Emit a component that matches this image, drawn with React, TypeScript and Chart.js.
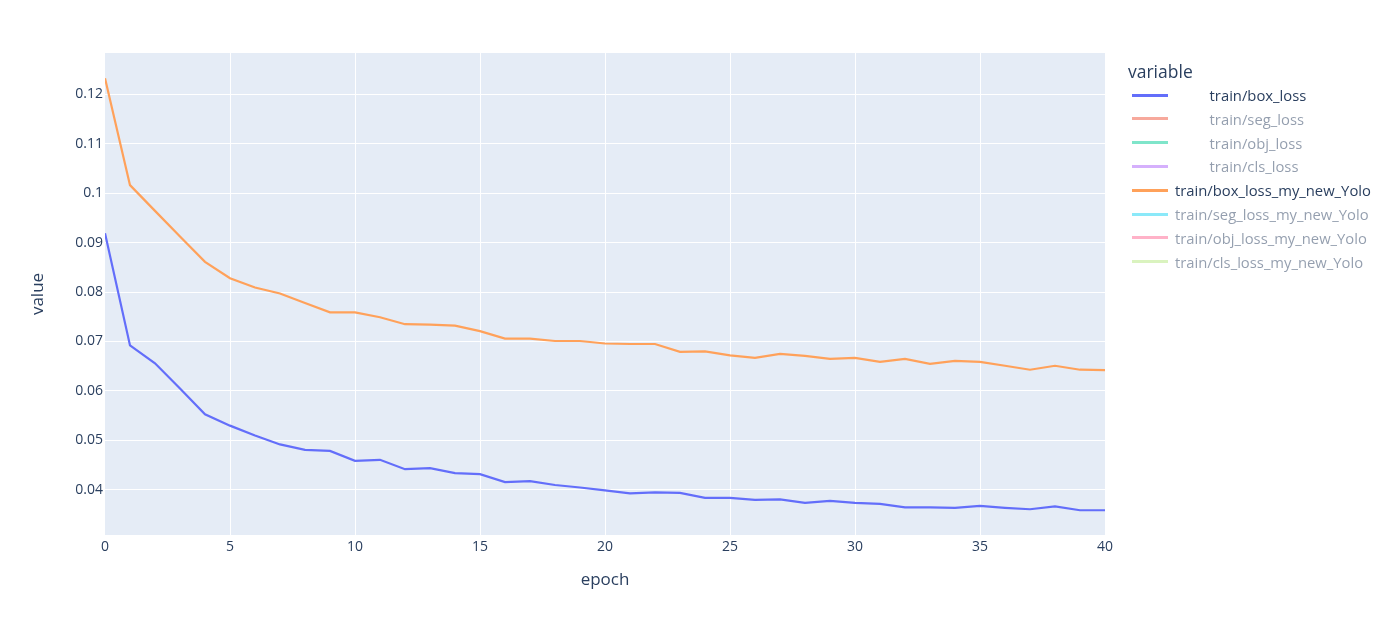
import React, { useEffect, useRef } from "react";
import { Chart, registerables } from "chart.js";

Chart.register(...registerables);

const epochs = [0, 1, 2, 3, 4, 5, 6, 7, 8, 9, 10, 11, 12, 13, 14, 15, 16, 17, 18, 19, 20, 21, 22, 23, 24, 25, 26, 27, 28, 29, 30, 31, 32, 33, 34, 35, 36, 37, 38, 39, 40];

const boxLoss = [0.0919, 0.0692, 0.0656, 0.0605, 0.0553, 0.0530, 0.0510, 0.0492, 0.0481, 0.0479, 0.0459, 0.0461, 0.0442, 0.0444, 0.0434, 0.0432, 0.0416, 0.0418, 0.0410, 0.0405, 0.0399, 0.0393, 0.0395, 0.0394, 0.0384, 0.0384, 0.0380, 0.0381, 0.0374, 0.0378, 0.0374, 0.0372, 0.0365, 0.0365, 0.0364, 0.0368, 0.0364, 0.0361, 0.0367, 0.0359, 0.0359];

const boxLossMyNewYolo = [0.1232, 0.1016, 0.0964, 0.0912, 0.0861, 0.0828, 0.0809, 0.0797, 0.0778, 0.0759, 0.0759, 0.0749, 0.0735, 0.0734, 0.0732, 0.0721, 0.0706, 0.0706, 0.0701, 0.0701, 0.0696, 0.0695, 0.0695, 0.0679, 0.0680, 0.0672, 0.0667, 0.0675, 0.0671, 0.0665, 0.0667, 0.0659, 0.0665, 0.0655, 0.0661, 0.0659, 0.0651, 0.0643, 0.0651, 0.0643, 0.0642];

const yTicks = [0.04, 0.05, 0.06, 0.07, 0.08, 0.09, 0.1, 0.11, 0.12];
const xTicks = [0, 5, 10, 15, 20, 25, 30, 35, 40];

const legendTitle = "variable";
const seriesNames = [
  "         train/box_loss",
  "         train/seg_loss",
  "         train/obj_loss",
  "         train/cls_loss",
  "train/box_loss_my_new_Yolo",
  "train/seg_loss_my_new_Yolo",
  "train/obj_loss_my_new_Yolo",
  "train/cls_loss_my_new_Yolo",
];
const seriesColors = ["#636efa", "#EF553B", "#00cc96", "#ab63fa", "#FFA15A", "#19d3f3", "#FF6692", "#B6E880"];
const seriesVisible = [true, false, false, false, true, false, false, false];
const seriesData: (number[] | null)[] = [boxLoss, null, null, null, boxLossMyNewYolo, null, null, null];

const FONT = "'Open Sans', 'Noto Sans', sans-serif";
const TEXT = "#2a3f5f";

const bgPlugin = {
  id: "plotBg",
  beforeDraw(chart: any) {
    const { ctx, chartArea } = chart;
    ctx.save();
    ctx.fillStyle = "#E5ECF6";
    ctx.fillRect(chartArea.left, chartArea.top, chartArea.right - chartArea.left, chartArea.bottom - chartArea.top);
    ctx.restore();
  },
};

export default function App() {
  const ref = useRef<HTMLCanvasElement | null>(null);

  useEffect(() => {
    if (!ref.current) return;
    const datasets = seriesNames
      .map((name, i) => ({ name, i }))
      .filter(({ i }) => seriesVisible[i] && seriesData[i])
      .map(({ name, i }) => ({
        label: name.trim(),
        data: (seriesData[i] as number[]).map((v, k) => ({ x: epochs[k], y: v })),
        borderColor: seriesColors[i],
        backgroundColor: seriesColors[i],
        borderWidth: 2.2,
        pointRadius: 0,
        tension: 0,
        fill: false,
      }));

    const chart = new Chart(ref.current, {
      type: "line",
      data: { datasets },
      plugins: [bgPlugin],
      options: {
        animation: false,
        responsive: false,
        layout: { padding: { left: 0, top: 53, right: 275, bottom: 0 } },
        plugins: { legend: { display: false }, tooltip: { enabled: false } },
        scales: {
          x: {
            type: "linear",
            min: 0,
            max: 40,
            afterBuildTicks: (s: any) => {
              s.ticks = xTicks.map((v) => ({ value: v }));
            },
            afterFit: (s: any) => {
              s.height = 100;
            },
            grid: {
              color: (c: any) => (c.tick && (c.tick.value === 0 || c.tick.value === 40) ? "rgba(0,0,0,0)" : "#ffffff"),
              lineWidth: 1,
              drawTicks: false,
            },
            border: { display: false },
            ticks: {
              color: TEXT,
              font: { family: FONT, size: 14 },
              padding: 4,
              maxRotation: 0,
              callback: (v: any) => String(v),
            },
            title: {
              display: true,
              text: "epoch",
              color: TEXT,
              font: { family: FONT, size: 17, lineHeight: 1.2 },
              padding: { top: 0, bottom: 45 },
            },
          },
          y: {
            type: "linear",
            min: 0.0309,
            max: 0.1283,
            afterBuildTicks: (s: any) => {
              s.ticks = yTicks.map((v) => ({ value: v }));
            },
            afterFit: (s: any) => {
              s.width = 105;
            },
            grid: { color: "#ffffff", lineWidth: 1, drawTicks: false },
            border: { display: false },
            ticks: {
              color: TEXT,
              font: { family: FONT, size: 14 },
              padding: 2,
              callback: (v: any) => String(Math.round(v * 100) / 100),
            },
            title: {
              display: true,
              text: "value",
              color: TEXT,
              font: { family: FONT, size: 17, lineHeight: 1.2 },
              padding: { top: 28, bottom: 0 },
            },
          },
        },
      },
    });
    return () => chart.destroy();
  }, []);

  return (
    <div style={{ position: "absolute", left: 0, top: 0, width: 1380, height: 635, background: "#fff" }}>
      <canvas ref={ref} width={1380} height={635} style={{ display: "block" }} />
      <div
        style={{
          position: "absolute",
          left: 1128,
          top: 59,
          fontFamily: FONT,
          fontSize: 17.5,
          color: TEXT,
          lineHeight: "24px",
        }}
      >
        {legendTitle}
      </div>
      {seriesNames.map((name, i) => (
        <div
          key={i}
          style={{
            position: "absolute",
            left: 1132,
            top: 83 + i * 23.8,
            height: 24,
            display: "flex",
            alignItems: "center",
            opacity: seriesVisible[i] ? 1 : 0.5,
            fontFamily: FONT,
            fontSize: 14.8,
            color: TEXT,
            whiteSpace: "pre",
          }}
        >
          <span style={{ display: "inline-block", width: 36, height: 3, background: seriesColors[i], marginRight: 7 }} />
          <span>{name}</span>
        </div>
      ))}
    </div>
  );
}
